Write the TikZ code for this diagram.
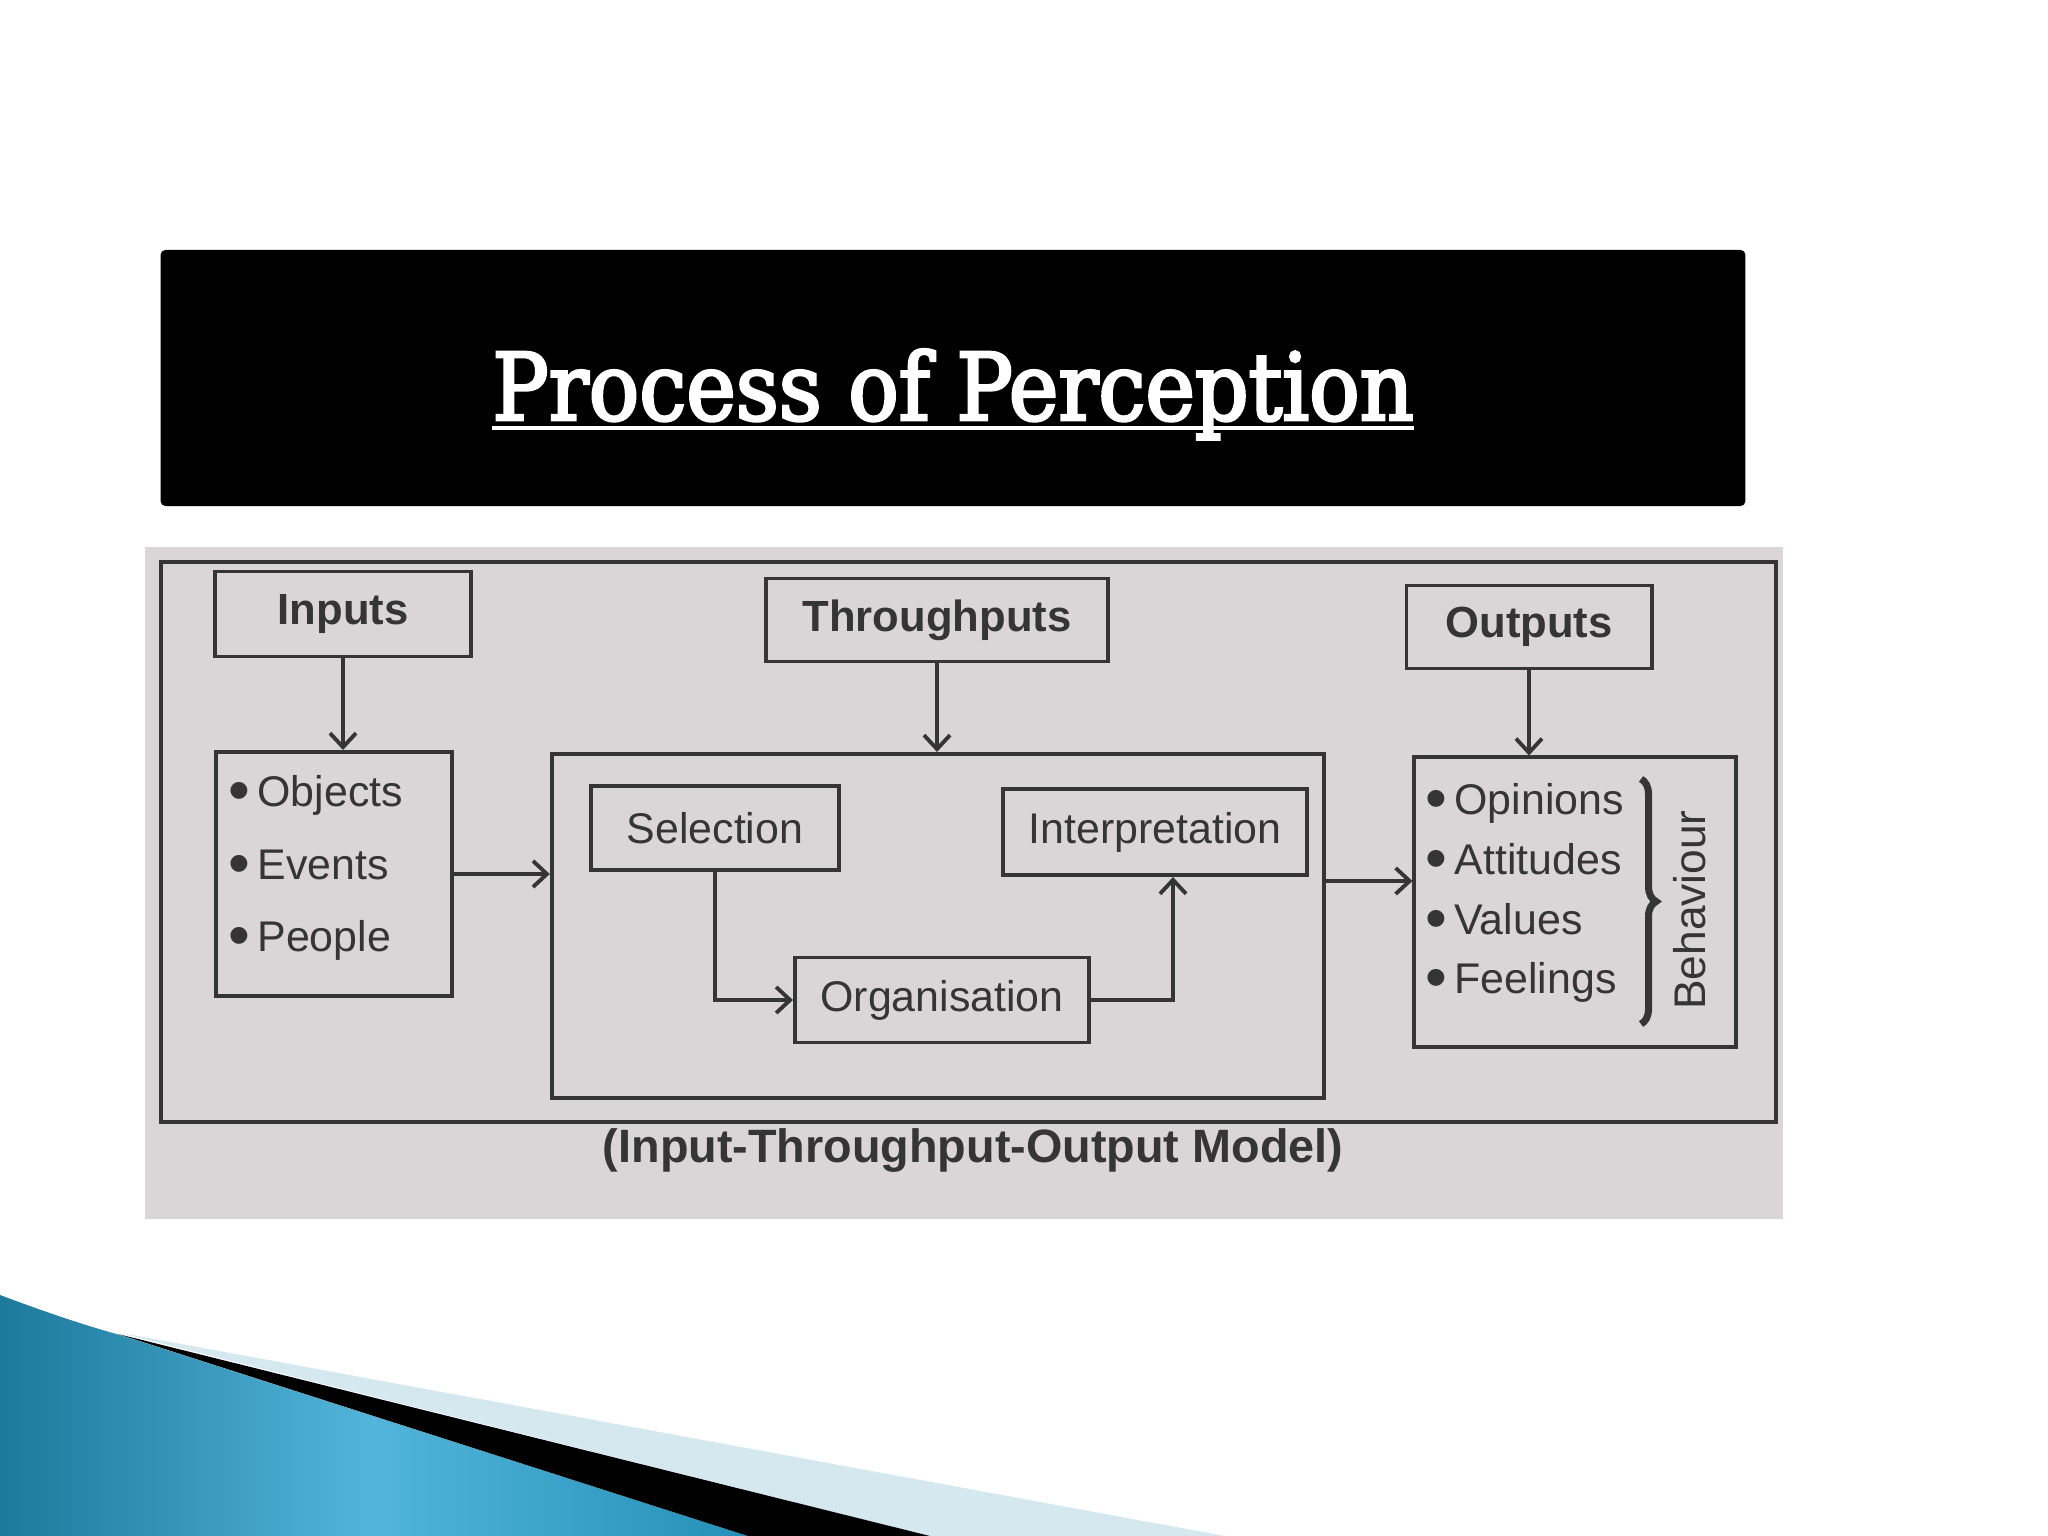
\documentclass[tikz,border=0pt]{standalone}
\usepackage{fontspec}
\setmainfont{Liberation Sans}
\newfontfamily\titlefont[FakeBold=3]{DejaVu Serif Condensed}
\usetikzlibrary{arrows.meta,positioning,decorations.pathreplacing}
\definecolor{ink}{HTML}{353535}
\definecolor{paper}{HTML}{DAD6D7}
\definecolor{tealdark}{HTML}{1C7A9C}
\definecolor{teallight}{HTML}{52B5D9}
\definecolor{tealmid}{HTML}{2490B8}
\definecolor{pale}{HTML}{D5E8F0}
\newcommand\bul{\raisebox{-0.12em}{\scalebox{1.45}{\textbullet}}\hspace{2pt}}

\begin{document}
\begin{tikzpicture}[x=0.01cm, y=-0.01cm,
    box/.style={draw=ink, line width=1.1pt, text=ink, inner sep=0pt},
    head/.style={box, font=\bfseries\fontsize{12.4}{14}\selectfont},
    plain/.style={box, font=\fontsize{12.2}{14}\selectfont},
    items/.style={text=ink, align=left, anchor=west, inner sep=0pt},
    arr/.style={draw=ink, line width=1.1pt, -{Straight Barb[length=1.4mm, width=2.6mm]}}]
  \useasboundingbox (0,0) rectangle (2048,1536);
  \fill[white] (0,0) rectangle (2048,1536);

  % title bar
  \node[fill=black, rounded corners=0.05cm, minimum width=15.84cm, minimum height=2.56cm] (bar) at (953,378) {};
  \node[anchor=base, inner sep=0pt, text=white, font=\titlefont\fontsize{26.5}{32}\selectfont] (ttl) at (953,420) {Process of Perception};
  \draw[white, line width=1.4pt] ([yshift=-0.08cm]ttl.base west) -- ([yshift=-0.08cm]ttl.base east);

  % scanned figure
  \fill[paper] (145,547) rectangle (1783,1219);
  \draw[ink, line width=1.2pt] (161,562) rectangle (1776,1122);

  \node[head, minimum width=2.56cm, minimum height=0.85cm] (inp) at (343,614) {Inputs};
  \node[head, minimum width=3.41cm, minimum height=0.83cm] (thr) at (937,620) {Throughputs};
  \node[head, minimum width=2.45cm, minimum height=0.83cm] (out) at (1529,627) {Outputs};

  \node[box, minimum width=2.36cm, minimum height=2.44cm] (obj) at (334,874) {};
  \node[items, font=\fontsize{12.2}{20.6}\selectfont] (objtxt) at (228,868)
    {\bul Objects\\\bul Events\\\bul People};

  \node[box, minimum width=7.72cm, minimum height=3.44cm] (mid) at (938,926) {};
  \node[plain, minimum width=2.48cm, minimum height=0.84cm] (sel) at (715,828) {Selection};
  \node[plain, minimum width=3.04cm, minimum height=0.86cm] (intp) at (1155,832) {Interpretation};
  \node[plain, minimum width=2.94cm, minimum height=0.85cm] (org) at (942,1000) {Organisation};

  \node[box, minimum width=3.21cm, minimum height=2.89cm] (lst) at (1575,902) {};
  \node[items, font=\fontsize{12.2}{17}\selectfont] (lsttxt) at (1425,893)
    {\bul Opinions\\\bul Attitudes\\\bul Values\\\bul Feelings};
  \coordinate (brt) at (1641,779);
  \coordinate (brb) at (1641,1024);
  \draw[ink, line width=2pt, decorate, decoration={brace, amplitude=0.15cm}] (brt) -- (brb);
  \node[rotate=90, text=ink, inner sep=0pt, font=\fontsize{12.6}{14}\selectfont] (behav) at (1690,910) {Behaviour};

  \draw[arr] (inp.south) -- (inp.south |- obj.north);
  \draw[arr] (thr.south) -- (thr.south |- mid.north);
  \draw[arr] (out.south) -- (out.south |- lst.north);
  \draw[arr] (obj.east) -- (obj.east -| mid.west);
  \draw[arr] ([yshift=0.45cm]mid.east) -- ([yshift=0.45cm]mid.east -| lst.west);
  \draw[arr] (sel.south) |- (org.west);
  \draw[arr] (org.east) -| ([xshift=0.18cm]intp.south);

  \node[text=ink, font=\bfseries\fontsize{13.3}{15}\selectfont] (cap) at (973,1150) {(Input-Throughput-Output Model)};

  % corner swoosh
  \shade[left color=tealdark, right color=tealmid, middle color=teallight]
    (0,1295) .. controls (40,1310) and (80,1324) .. (120,1335) -- (748,1536) -- (0,1536) -- cycle;
  \fill[pale] (116,1332) -- (1225,1536) -- (930,1536) -- cycle;
  \fill[black] (118,1334) -- (930,1536) -- (748,1536) -- cycle;
\end{tikzpicture}
\end{document}
